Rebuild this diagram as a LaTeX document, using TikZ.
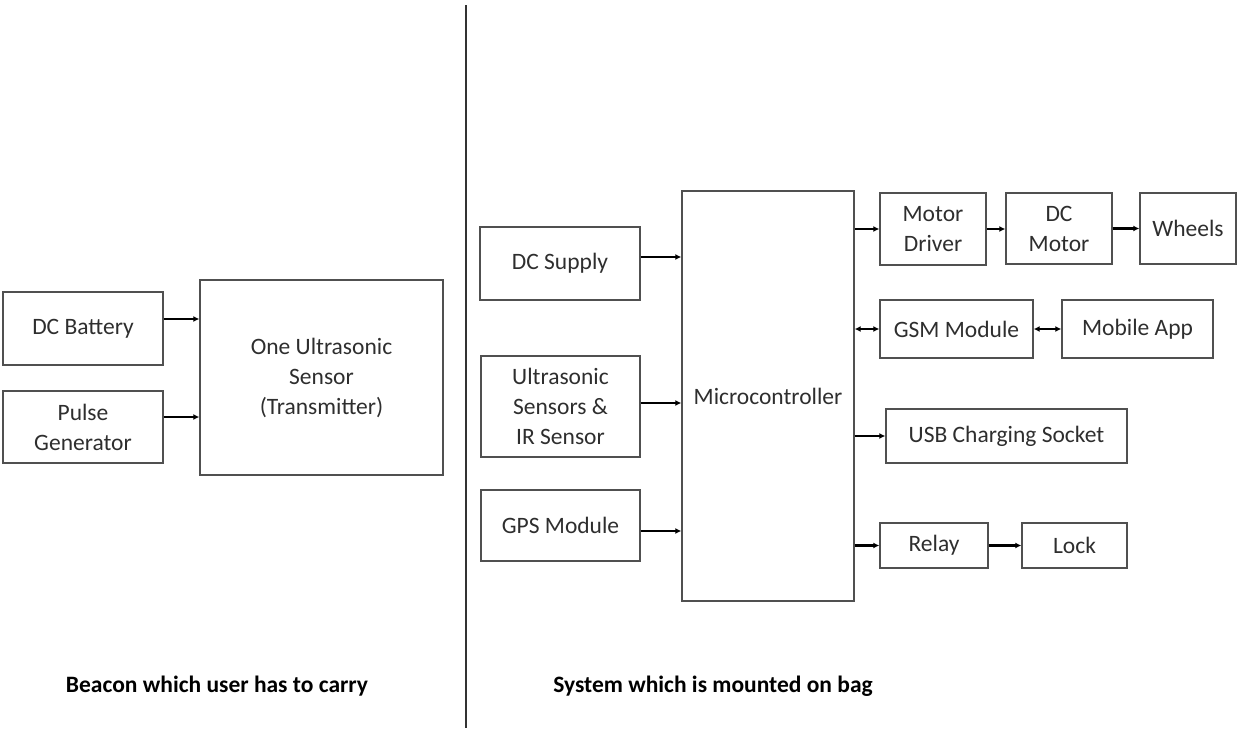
\documentclass[tikz,border=0pt]{standalone}
\usepackage{fontspec}
\setmainfont{Carlito}
\usetikzlibrary{arrows.meta}
\definecolor{txt}{HTML}{2E2E2E}
\definecolor{edge}{HTML}{505050}
\tikzset{
  box/.style={draw=edge, line width=1.4pt, align=center, text=txt, inner sep=2pt,
    font=\fontsize{23.5}{30}\selectfont},
  arr/.style={line width=2.2pt, -{Latex[length=6pt,width=6pt]}},
  darr/.style={line width=2.2pt, {Latex[length=6pt,width=6pt]}-{Latex[length=6pt,width=6pt]}},
  caption/.style={text=black, font=\fontsize{23.5}{28}\selectfont\bfseries}
}
\begin{document}
\begin{tikzpicture}[x=1pt,y=-1pt]
\useasboundingbox (0,0) rectangle (1244,736);
% left side
\node[box, minimum width=160pt, minimum height=73pt] (bat) at (83,328.5) {DC Battery};
\node[box, minimum width=160pt, minimum height=72pt] (pulse) at (83,427) {Pulse\\Generator};
\node[box, minimum width=243pt, minimum height=195pt] (sens) at (321.5,377.5) {One Ultrasonic\\Sensor\\(Transmitter)};
\draw[arr] ([yshift=9.5pt]bat.east) -- ([yshift=9.5pt]bat.east -| sens.west);
\draw[arr] ([yshift=10pt]pulse.east) -- ([yshift=10pt]pulse.east -| sens.west);
% divider
\coordinate (dtop) at (466,5);
\coordinate (dbot) at (466,728);
\draw[line width=2pt, black!80] (dtop) -- (dbot);
% right side
\node[box, minimum width=160pt, minimum height=73pt] (dcs) at (560,263.5) {DC Supply};
\node[box, minimum width=159pt, minimum height=101pt] (uss) at (560.5,406.5) {Ultrasonic\\Sensors \&\\IR Sensor};
\node[box, minimum width=159pt, minimum height=71pt] (gps) at (560.5,525.5) {GPS Module};
\node[box, minimum width=172pt, minimum height=410pt] (mcu) at (768,396) {Microcontroller};
\node[box, minimum width=106pt, minimum height=72pt] (md) at (933,229) {Motor\\Driver};
\node[box, minimum width=106pt, minimum height=71pt] (dcm) at (1059,228.5) {DC\\Motor};
\node[box, minimum width=96pt, minimum height=71pt] (wh) at (1188,228.5) {Wheels};
\node[box, minimum width=153pt, minimum height=58pt] (gsm) at (956.5,329) {GSM Module};
\node[box, minimum width=151pt, minimum height=58pt] (app) at (1137.5,329) {Mobile App};
\node[box, minimum width=241pt, minimum height=54pt] (usb) at (1006.5,436) {USB Charging Socket};
\node[box, minimum width=108pt, minimum height=45pt] (rel) at (934,545.5) {Relay};
\node[box, minimum width=105pt, minimum height=45pt] (lock) at (1074.5,545.5) {Lock};
\draw[arr] ([yshift=6.5pt]dcs.east) -- ([yshift=6.5pt]dcs.east -| mcu.west);
\draw[arr] ([yshift=3.5pt]uss.east) -- ([yshift=3.5pt]uss.east -| mcu.west);
\draw[arr] ([yshift=-5.5pt]gps.east) -- ([yshift=-5.5pt]gps.east -| mcu.west);
\draw[arr] (mcu.east |- md.west) -- (md.west);
\draw[arr] (md.east) -- (dcm.west |- md.east);
\draw[arr] (dcm.east) -- (wh.west |- dcm.east);
\draw[darr] (mcu.east |- gsm.west) -- (gsm.west);
\draw[darr] (gsm.east) -- (app.west);
\draw[arr] (mcu.east |- usb.west) -- (usb.west);
\draw[arr] (mcu.east |- rel.west) -- (rel.west);
\draw[arr] (rel.east) -- (lock.west);
% captions
\node[caption] (cap1) at (217,686) {Beacon which user has to carry};
\node[caption] (cap2) at (713,686) {System which is mounted on bag};
\end{tikzpicture}
\end{document}
